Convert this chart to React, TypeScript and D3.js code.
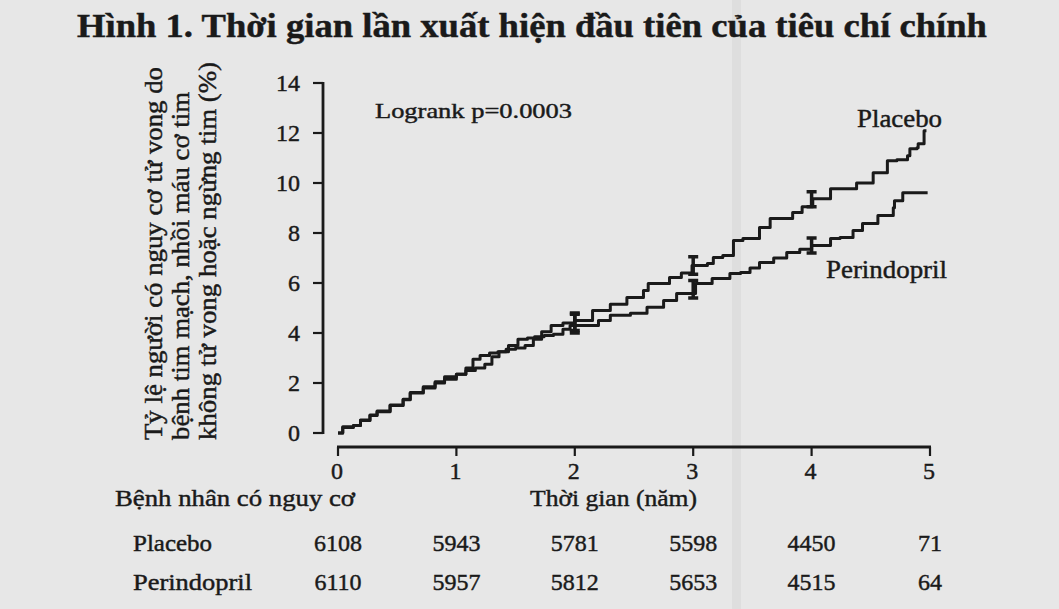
import React from "react";
import * as d3 from "d3";

const yTicks = [0, 2, 4, 6, 8, 10, 12, 14];
const xTicks = [0, 1, 2, 3, 4, 5];

const placeboT = [0, 0.04, 0.13, 0.19, 0.27, 0.33, 0.44, 0.55, 0.61, 0.72, 0.82, 0.9, 1.0, 1.08, 1.14, 1.2, 1.28, 1.35, 1.42, 1.5, 1.58, 1.65, 1.72, 1.8, 1.9, 2.0, 2.15, 2.3, 2.44, 2.58, 2.62, 2.8, 2.9, 2.99, 3.12, 3.17, 3.25, 3.34, 3.42, 3.56, 3.65, 3.84, 3.92, 4.01, 4.16, 4.38, 4.52, 4.64, 4.72, 4.81, 4.83, 4.89, 4.9, 4.94, 4.95, 4.97];
const placeboV = [0, 0.25, 0.3, 0.5, 0.7, 0.85, 1.1, 1.35, 1.6, 1.8, 2.0, 2.15, 2.35, 2.6, 2.95, 3.1, 3.2, 3.25, 3.35, 3.4, 3.5, 3.75, 4.05, 4.3, 4.4, 4.5, 4.9, 5.15, 5.42, 5.7, 5.98, 6.22, 6.4, 6.7, 6.78, 7.02, 7.1, 7.7, 7.78, 8.22, 8.58, 8.82, 9.05, 9.37, 9.77, 10.0, 10.41, 10.89, 10.93, 11.09, 11.37, 11.41, 11.57, 11.57, 12.09, 12.09];

const perindoprilT = [0, 0.04, 0.13, 0.19, 0.27, 0.33, 0.44, 0.55, 0.61, 0.72, 0.82, 0.9, 1.0, 1.08, 1.16, 1.24, 1.3, 1.36, 1.44, 1.52, 1.6, 1.66, 1.74, 1.82, 1.9, 1.96, 2.2, 2.3, 2.47, 2.61, 2.75, 2.86, 3.02, 3.16, 3.31, 3.4, 3.48, 3.56, 3.68, 3.79, 3.9, 4.0, 4.16, 4.24, 4.35, 4.43, 4.56, 4.69, 4.7, 4.77, 4.98];
const perindoprilV = [0, 0.22, 0.3, 0.52, 0.72, 0.88, 1.12, 1.33, 1.62, 1.85, 2.05, 2.25, 2.35, 2.5, 2.6, 2.75, 3.05, 3.25, 3.5, 3.75, 3.8, 3.85, 3.9, 3.95, 4.15, 4.3, 4.5, 4.71, 4.79, 5.03, 5.3, 5.58, 5.98, 6.18, 6.38, 6.42, 6.6, 6.82, 7.0, 7.22, 7.35, 7.5, 7.78, 7.82, 8.1, 8.38, 8.7, 9.01, 9.29, 9.61, 9.61];

const errYears = [2, 3, 4];
const placeboErrLow = [4.1, 6.35, 9.05];
const placeboErrHigh = [4.8, 7.05, 9.65];
const perindoprilErrLow = [4.0, 5.4, 7.2];
const perindoprilErrHigh = [4.75, 6.1, 7.8];

const atRiskPlacebo = ["6108", "5943", "5781", "5598", "4450", "71"];
const atRiskPerindopril = ["6110", "5957", "5812", "5653", "4515", "64"];

const title = "Hình 1. Thời gian lần xuất hiện đầu tiên của tiêu chí chính";
const yLabelLines = [
  "Tỷ lệ người có nguy cơ tử vong do",
  "bệnh tim mạch, nhồi máu cơ tim",
  "không tử vong hoặc ngừng tim (%)",
];

const W = 1059;
const H = 609;
const INK = "#1a1a1a";
const FONT = "'Liberation Serif', 'Times New Roman', serif";

export default function App() {
  const x = d3.scaleLinear().domain([0, 5]).range([338, 930]);
  const y = d3.scaleLinear().domain([0, 14]).range([433, 83]);
  const line = d3
    .line<[number, number]>()
    .x((d) => x(d[0]))
    .y((d) => y(d[1]))
    .curve(d3.curveStepAfter);

  const placebo: [number, number][] = placeboT.map((t, i) => [t, placeboV[i]]);
  const perindopril: [number, number][] = perindoprilT.map((t, i) => [t, perindoprilV[i]]);

  const yAxisX = 323;
  const xAxisY = 447;
  const yLabelBase = [162, 189, 216];
  const yLabelLen = [373, 348, 378];

  const txt = { fill: INK, stroke: INK, strokeWidth: 0.45 };

  const errBar = (t: number, lo: number, hi: number, key: string) => {
    const cx = x(t);
    return (
      <g key={key} stroke={INK}>
        <line x1={cx} x2={cx} y1={y(lo)} y2={y(hi)} strokeWidth={3.5} />
        <line x1={cx - 5} x2={cx + 5} y1={y(lo)} y2={y(lo)} strokeWidth={3.5} />
        <line x1={cx - 5} x2={cx + 5} y1={y(hi)} y2={y(hi)} strokeWidth={3.5} />
      </g>
    );
  };

  return (
    <svg
      width={W}
      height={H}
      style={{ position: "absolute", left: 0, top: 0, background: "#e7e7e7" }}
      fontFamily={FONT}
    >
      <rect x={0} y={0} width={W} height={H} fill="#e7e7e7" />
      <rect x={732} y={0} width={9} height={H} fill="#d9d9d9" opacity={0.6} />

      <text
        x={532}
        y={37}
        textAnchor="middle"
        fontSize={34}
        fontWeight="bold"
        {...txt}
        textLength={910}
        lengthAdjust="spacingAndGlyphs"
      >
        {title}
      </text>

      {yLabelLines.map((s, i) => (
        <text
          key={s}
          transform={`translate(${yLabelBase[i]},440) rotate(-90)`}
          fontSize={25}
          {...txt}
          textLength={yLabelLen[i]}
          lengthAdjust="spacingAndGlyphs"
        >
          {s}
        </text>
      ))}

      {/* y axis */}
      <line x1={yAxisX} x2={yAxisX} y1={y(14) - 1} y2={y(0) + 1} stroke={INK} strokeWidth={2.8} />
      {yTicks.map((v) => (
        <g key={"yt" + v}>
          <line x1={yAxisX - 10} x2={yAxisX} y1={y(v)} y2={y(v)} stroke={INK} strokeWidth={2.2} />
          <text x={300} y={y(v)} dy="0.35em" textAnchor="end" fontSize={24} {...txt}>
            {v}
          </text>
        </g>
      ))}

      {/* x axis */}
      <line x1={x(0) - 1} x2={x(5) + 1} y1={xAxisY} y2={xAxisY} stroke={INK} strokeWidth={2.8} />
      {xTicks.map((t) => (
        <g key={"xt" + t}>
          <line x1={x(t)} x2={x(t)} y1={xAxisY} y2={xAxisY + 9} stroke={INK} strokeWidth={2.2} />
          <text x={x(t) - 1} y={479} textAnchor="middle" fontSize={24} {...txt}>
            {t}
          </text>
        </g>
      ))}

      {/* curves */}
      <path d={line(placebo) || ""} fill="none" stroke={INK} strokeWidth={3} strokeLinejoin="round" />
      <path d={line(perindopril) || ""} fill="none" stroke={INK} strokeWidth={3} strokeLinejoin="round" />

      {errYears.map((t, i) => errBar(t, placeboErrLow[i], placeboErrHigh[i], "pe" + i))}
      {errYears.map((t, i) => errBar(t, perindoprilErrLow[i], perindoprilErrHigh[i], "re" + i))}

      <text x={375} y={118} fontSize={22} {...txt} textLength={197} lengthAdjust="spacingAndGlyphs">
        Logrank p=0.0003
      </text>
      <text x={857} y={127} fontSize={25} {...txt} textLength={85} lengthAdjust="spacingAndGlyphs">
        Placebo
      </text>
      <text x={826} y={278} fontSize={25} {...txt} textLength={121} lengthAdjust="spacingAndGlyphs">
        Perindopril
      </text>

      {/* at risk table */}
      <text x={115} y={506} fontSize={24} {...txt} textLength={240} lengthAdjust="spacingAndGlyphs">
        Bệnh nhân có nguy cơ
      </text>
      <text x={530} y={506} fontSize={24} {...txt} textLength={167} lengthAdjust="spacingAndGlyphs">
        Thời gian (năm)
      </text>
      <text x={133} y={551} fontSize={24} {...txt} textLength={79} lengthAdjust="spacingAndGlyphs">
        Placebo
      </text>
      <text x={133} y={590} fontSize={24} {...txt} textLength={119} lengthAdjust="spacingAndGlyphs">
        Perindopril
      </text>
      {atRiskPlacebo.map((s, i) => (
        <text key={"ap" + i} x={x(xTicks[i])} y={551} textAnchor="middle" fontSize={24} {...txt}>
          {s}
        </text>
      ))}
      {atRiskPerindopril.map((s, i) => (
        <text key={"ar" + i} x={x(xTicks[i])} y={590} textAnchor="middle" fontSize={24} {...txt}>
          {s}
        </text>
      ))}
    </svg>
  );
}
